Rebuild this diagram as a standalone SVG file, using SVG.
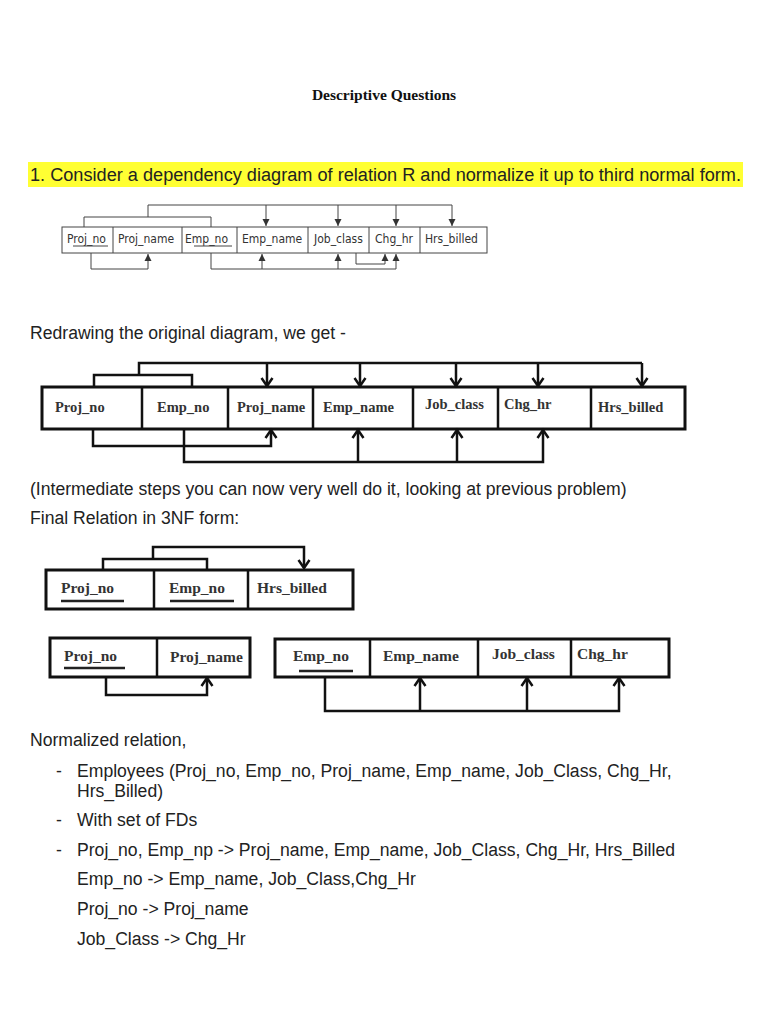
<svg xmlns="http://www.w3.org/2000/svg" width="768" height="1024" viewBox="0 0 768 1024">
<style>
.body{font-family:"Liberation Sans",Arial,sans-serif;font-size:17.6px;fill:#222}
.title{font-family:"Liberation Serif","Times New Roman",serif;font-size:15.5px;font-weight:bold;fill:#111}
.s{font-family:"DejaVu Sans Condensed","DejaVu Sans",sans-serif;font-size:12px;fill:#333}
.b{font-family:"Liberation Serif","Times New Roman",serif;font-weight:bold;fill:#333}
.thin{fill:none;stroke:#444;stroke-width:1}
.thick{fill:none;stroke:#111;stroke-width:3}
.med{fill:none;stroke:#111;stroke-width:2.5}
.ul{stroke:#222;stroke-width:2.5}
</style>
<defs>
<marker id="tri" markerUnits="userSpaceOnUse" markerWidth="10" markerHeight="10" refX="0" refY="0" viewBox="-8 -5 9 10" orient="auto">
<path d="M0,0 L-7,-3.5 L-7,3.5 Z" fill="#333"/>
</marker>
<marker id="vee" markerUnits="userSpaceOnUse" markerWidth="16" markerHeight="16" refX="0" refY="0" viewBox="-10 -8 12 16" orient="auto">
<path d="M-8,-5.5 L0,0 L-8,5.5" fill="none" stroke="#111" stroke-width="2.5"/>
</marker>
</defs>

<rect width="768" height="1024" fill="#fff"/>

<text class="title" x="384" y="100" text-anchor="middle">Descriptive Questions</text>
<rect x="28" y="162" width="715" height="25" fill="#ffff33"/>
<text class="body" x="30" y="181" textLength="711" lengthAdjust="spacingAndGlyphs">1. Consider a dependency diagram of relation R and normalize it up to third normal form.</text>

<!-- Diagram 1: original dependency diagram -->
<g id="d1-relation">
<rect class="thin" x="62" y="227" width="425" height="26"/>
<path class="thin" d="M113,227V253M182,227V253M237,227V253M308,227V253M369,227V253M420,227V253"/>
<text class="s" x="67" y="243">Proj_no</text>
<text class="s" x="118" y="243">Proj_name</text>
<text class="s" x="185" y="243">Emp_no</text>
<text class="s" x="242" y="243">Emp_name</text>
<text class="s" x="314" y="243">Job_class</text>
<text class="s" x="375" y="243">Chg_hr</text>
<text class="s" x="425" y="243">Hrs_billed</text>
<path class="thin" d="M73,246H108M194,246H232"/>
</g>
<g id="d1-connectors" class="thin">
<path d="M84,227V217H211V227"/>
<path d="M148,217V205H452"/>
<path d="M266,205V226" marker-end="url(#tri)"/>
<path d="M338,205V226" marker-end="url(#tri)"/>
<path d="M396,205V226" marker-end="url(#tri)"/>
<path d="M452,205V226" marker-end="url(#tri)"/>
<path d="M91,253V269H148V254" marker-end="url(#tri)"/>
<path d="M211,253V269H396V254" marker-end="url(#tri)"/>
<path d="M262,269V254" marker-end="url(#tri)"/>
<path d="M338,269V254" marker-end="url(#tri)"/>
<path d="M356,253V264H385V254" marker-end="url(#tri)"/>
</g>

<text class="body" x="30" y="339">Redrawing the original diagram, we get -</text>

<!-- Diagram 2: redrawn diagram -->
<g id="d2-relation">
<rect class="thick" x="42" y="387" width="643" height="42"/>
<path class="med" d="M142,387V429M228,387V429M313,387V429M413,387V429M498,387V429M591,387V429"/>
<text class="b" font-size="14.5" x="55" y="412">Proj_no</text>
<text class="b" font-size="14.5" x="157" y="412">Emp_no</text>
<text class="b" font-size="14.5" x="237" y="412">Proj_name</text>
<text class="b" font-size="14.5" x="323" y="412">Emp_name</text>
<text class="b" font-size="14.5" x="425" y="409">Job_class</text>
<text class="b" font-size="14.5" x="504" y="409">Chg_hr</text>
<text class="b" font-size="14.5" x="598" y="412">Hrs_billed</text>
</g>
<g id="d2-connectors" class="med">
<path d="M94,387V375H192V387"/>
<path d="M139,375V363H642"/>
<path d="M267,363V386" marker-end="url(#vee)"/>
<path d="M360,363V386" marker-end="url(#vee)"/>
<path d="M456,363V386" marker-end="url(#vee)"/>
<path d="M538,363V386" marker-end="url(#vee)"/>
<path d="M642,363V386" marker-end="url(#vee)"/>
<path d="M93,429V446H271V430" marker-end="url(#vee)"/>
<path d="M184,429V462H543V430" marker-end="url(#vee)"/>
<path d="M358,462V430" marker-end="url(#vee)"/>
<path d="M457,462V430" marker-end="url(#vee)"/>
</g>

<text class="body" x="30" y="495">(Intermediate steps you can now very well do it, looking at previous problem)</text>
<text class="body" x="30" y="524">Final Relation in 3NF form:</text>

<!-- Diagram 3: Proj_no, Emp_no -> Hrs_billed -->
<g id="d3-relation">
<rect class="thick" x="46" y="570" width="307" height="39"/>
<path class="med" d="M154,570V609M248,570V609"/>
<text class="b" font-size="15.5" x="61" y="593">Proj_no</text>
<text class="b" font-size="15.5" x="169" y="593">Emp_no</text>
<text class="b" font-size="15.5" x="257" y="593">Hrs_billed</text>
<path class="ul" d="M61,601H124M170,601H234"/>
</g>
<g id="d3-connectors" class="med">
<path d="M103,570V559H207V570"/>
<path d="M153,559V547H304V568" marker-end="url(#vee)"/>
</g>

<!-- Diagram 4a: Proj_no -> Proj_name -->
<g id="d4-project">
<rect class="thick" x="50" y="638" width="200" height="39"/>
<path class="med" d="M157,638V677"/>
<text class="b" font-size="15.5" x="64" y="661">Proj_no</text>
<text class="b" font-size="15.5" x="170" y="662">Proj_name</text>
<path class="ul" d="M64,668H125"/>
</g>
<g id="d4-project-connectors" class="med">
<path d="M106,677V695H207V678" marker-end="url(#vee)"/>
</g>

<!-- Diagram 4b: Emp_no -> Emp_name, Job_class, Chg_hr -->
<g id="d4-employee">
<rect class="thick" x="275" y="639" width="394" height="38"/>
<path class="med" d="M370,639V677M478,639V677M571,639V677"/>
<text class="b" font-size="15.5" x="293" y="661">Emp_no</text>
<text class="b" font-size="15.5" x="383" y="661">Emp_name</text>
<text class="b" font-size="15.5" x="492" y="659">Job_class</text>
<text class="b" font-size="15.5" x="577" y="659">Chg_hr</text>
<path class="ul" d="M299,671H353"/>
</g>
<g id="d4-employee-connectors" class="med">
<path d="M325,677V711H619V678" marker-end="url(#vee)"/>
<path d="M420,711V678" marker-end="url(#vee)"/>
<path d="M527,711V678" marker-end="url(#vee)"/>
</g>

<text class="body" x="30" y="746">Normalized relation,</text>
<text class="body" x="56" y="777">-</text>
<text class="body" x="77" y="777">Employees (Proj_no, Emp_no, Proj_name, Emp_name, Job_Class, Chg_Hr,</text>
<text class="body" x="77" y="797">Hrs_Billed)</text>
<text class="body" x="56" y="826">-</text>
<text class="body" x="77" y="826">With set of FDs</text>
<text class="body" x="56" y="856">-</text>
<text class="body" x="77" y="856">Proj_no, Emp_np -&gt; Proj_name, Emp_name, Job_Class, Chg_Hr, Hrs_Billed</text>
<text class="body" x="77" y="885">Emp_no -&gt; Emp_name, Job_Class,Chg_Hr</text>
<text class="body" x="77" y="915">Proj_no -&gt; Proj_name</text>
<text class="body" x="77" y="945">Job_Class -&gt; Chg_Hr</text>
</svg>
